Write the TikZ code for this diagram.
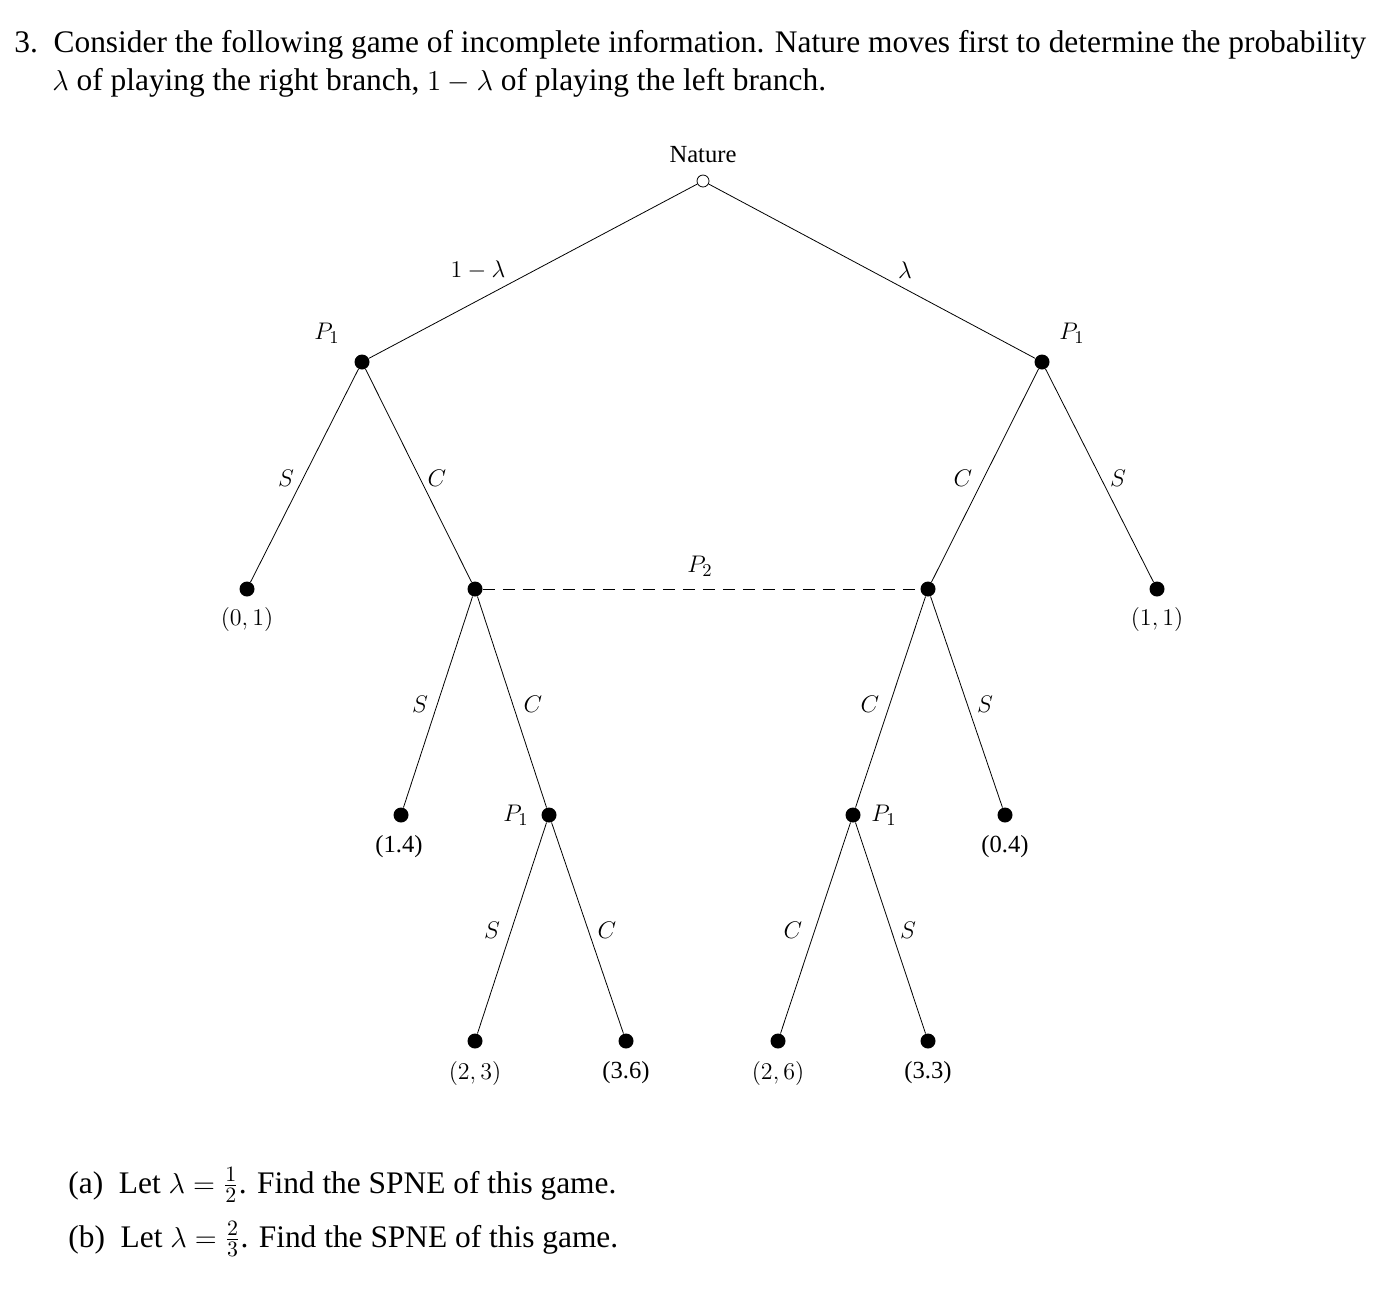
\documentclass[tikz,border=0pt]{standalone}
\usepackage{fontspec}
\setmainfont{Liberation Serif}
\begin{document}
\begin{tikzpicture}[x=0.5pt,y=-0.5pt,
  dot/.style={circle,fill=black,inner sep=0pt,minimum size=7.5pt},
  odot/.style={circle,draw=black,fill=white,inner sep=0pt,minimum size=6pt},
  lab/.style={font=\fontsize{12.3}{14}\selectfont,inner sep=1pt},
  txt/.style={font=\fontsize{15.7}{18}\selectfont,anchor=base west,inner sep=0pt},
  edge/.style={draw=black,line width=0.4pt}]
\useasboundingbox (0,0) rectangle (1400,1292);
\node[txt] (t1) at (14,52) {3.\ \ Consider the following game of incomplete information. Nature moves first to determine the probability};
\node[txt] (t2) at (52,90) {$\lambda$ of playing the right branch, $1-\lambda$ of playing the left branch.};
\node[txt] (ta) at (68,1193) {(a)\ \ Let $\lambda=\frac{1}{2}$. Find the SPNE of this game.};
\node[txt] (tb) at (68,1247) {(b)\ \ Let $\lambda=\frac{2}{3}$. Find the SPNE of this game.};
% nodes
\node[odot] (N) at (703,181) {};
\node[dot] (A) at (362,362) {};
\node[dot] (B) at (1042,362) {};
\node[dot] (L1) at (247,589) {};
\node[dot] (P2a) at (475,589) {};
\node[dot] (P2b) at (928,589) {};
\node[dot] (R1) at (1157,589) {};
\node[dot] (L2) at (401,815) {};
\node[dot] (Ca) at (549,815) {};
\node[dot] (Cb) at (853,815) {};
\node[dot] (R2) at (1005,815) {};
\node[dot] (E1) at (475,1041) {};
\node[dot] (E2) at (626,1041) {};
\node[dot] (E3) at (778,1041) {};
\node[dot] (E4) at (928,1041) {};
% edges
\draw[edge] (N) -- (A); \draw[edge] (N) -- (B);
\draw[edge] (A) -- (L1); \draw[edge] (A) -- (P2a);
\draw[edge] (B) -- (P2b); \draw[edge] (B) -- (R1);
\draw[edge] (P2a) -- (L2); \draw[edge] (P2a) -- (Ca);
\draw[edge] (P2b) -- (Cb); \draw[edge] (P2b) -- (R2);
\draw[edge] (Ca) -- (E1); \draw[edge] (Ca) -- (E2);
\draw[edge] (Cb) -- (E3); \draw[edge] (Cb) -- (E4);
\draw[edge,dashed,dash pattern=on 6pt off 4pt] (P2a) -- (P2b);
% labels
\node[lab] (ln) at (703,155) {Nature};
\node[lab] (lA) at (327,333) {$P_1$};
\node[lab] (lB) at (1072,333) {$P_1$};
\node[lab] (lP2) at (700,566) {$P_2$};
\node[lab] (lCa) at (516,815) {$P_1$};
\node[lab] (lCb) at (884,815) {$P_1$};
\node[lab] at (478,270) {$1-\lambda$};
\node[lab] at (905,270) {$\lambda$};
\node[lab] at (286,478) {$S$};
\node[lab] at (437,478) {$C$};
\node[lab] at (963,478) {$C$};
\node[lab] at (1118,478) {$S$};
\node[lab] at (420,704) {$S$};
\node[lab] at (533,704) {$C$};
\node[lab] at (870,704) {$C$};
\node[lab] at (985,704) {$S$};
\node[lab] at (492,930) {$S$};
\node[lab] at (607,930) {$C$};
\node[lab] at (793,930) {$C$};
\node[lab] at (908,930) {$S$};
\node[lab] at (247,619) {$(0,1)$};
\node[lab] at (1157,619) {$(1,1)$};
\node[lab] at (399,847) {(1.4)};
\node[lab] at (1005,847) {(0.4)};
\node[lab] at (475,1073) {$(2,3)$};
\node[lab] at (626,1073) {(3.6)};
\node[lab] at (778,1073) {$(2,6)$};
\node[lab] at (928,1073) {(3.3)};
\end{tikzpicture}
\end{document}
